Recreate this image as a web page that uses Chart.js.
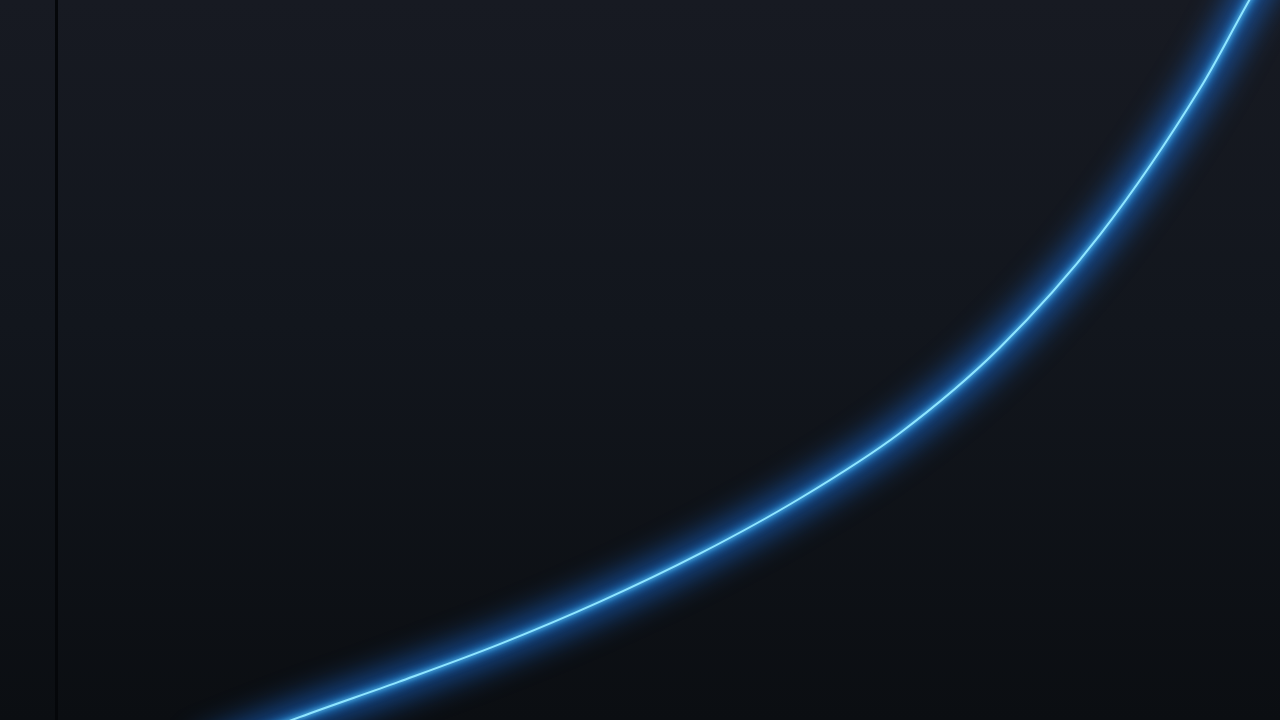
<!DOCTYPE html>
<html>
<head>
<meta charset="utf-8">
<script src="https://cdn.jsdelivr.net/npm/chart.js@4"></script>
<style>
  html, body { margin: 0; padding: 0; }
  body {
    width: 1280px; height: 720px; overflow: hidden;
    background: linear-gradient(180deg, #171a22 0%, #12161d 45%, #0b0e12 100%);
  }
  #wrap { width: 1280px; height: 720px; position: relative; }
</style>
</head>
<body>
<div id="wrap"><canvas id="growthChart"></canvas></div>
<script>
// curve samples (x = time, y = value, both 0..100)
var xs = [11.7, 19.9, 28.0, 36.2, 44.4, 52.6, 60.8, 68.9, 77.1, 85.3, 93.5, 97.5, 99.2];
var ys = [-5.0, 0.4, 5.3, 10.5, 16.4, 23.1, 30.8, 39.8, 51.7, 67.4, 87.8, 100.0, 104.9];

var points = xs.map(function (x, i) { return { x: x, y: ys[i] }; });

// blur per dataset: 0 = bright core (drawn on top), 1 = inner halo, 2 = wide halo
var blurs = ['none', 'blur(4px)', 'blur(15px)'];
var glow = {
    id: 'glow',
    beforeDatasetDraw: function (chart, args) {
        var ctx = chart.ctx;
        ctx.save();
        ctx.filter = blurs[args.index];
        if (args.index === 0) {
            ctx.shadowColor = 'rgba(120, 220, 255, 0.9)';
            ctx.shadowBlur = 4;
        }
    },
    afterDatasetDraw: function (chart) {
        chart.ctx.restore();
    }
};

function lineSet(color, width) {
    return {
        data: points,
        borderColor: color,
        borderWidth: width,
        pointRadius: 0,
        cubicInterpolationMode: 'monotone'
    };
}

var ctx = document.getElementById('growthChart').getContext('2d');
var chart = new Chart(ctx, {
    type: 'line',
    data: {
        datasets: [
            lineSet('#8fe6ff', 2),
            lineSet('rgba(45, 160, 240, 0.85)', 7),
            lineSet('rgba(25, 110, 220, 0.7)', 30)
        ]
    },
    options: {
        responsive: true,
        maintainAspectRatio: false,
        animation: false,
        layout: { padding: { left: 56, right: 0, top: 0, bottom: 0 } },
        plugins: { legend: { display: false }, tooltip: { enabled: false } },
        scales: {
            x: { type: 'linear', min: 0, max: 100, display: false },
            y: {
                min: 0, max: 100,
                ticks: { display: false },
                grid: { display: false, drawTicks: false },
                border: { display: true, color: '#05070a', width: 3 }
            }
        }
    },
    plugins: [glow]
});
</script>
</body>
</html>
